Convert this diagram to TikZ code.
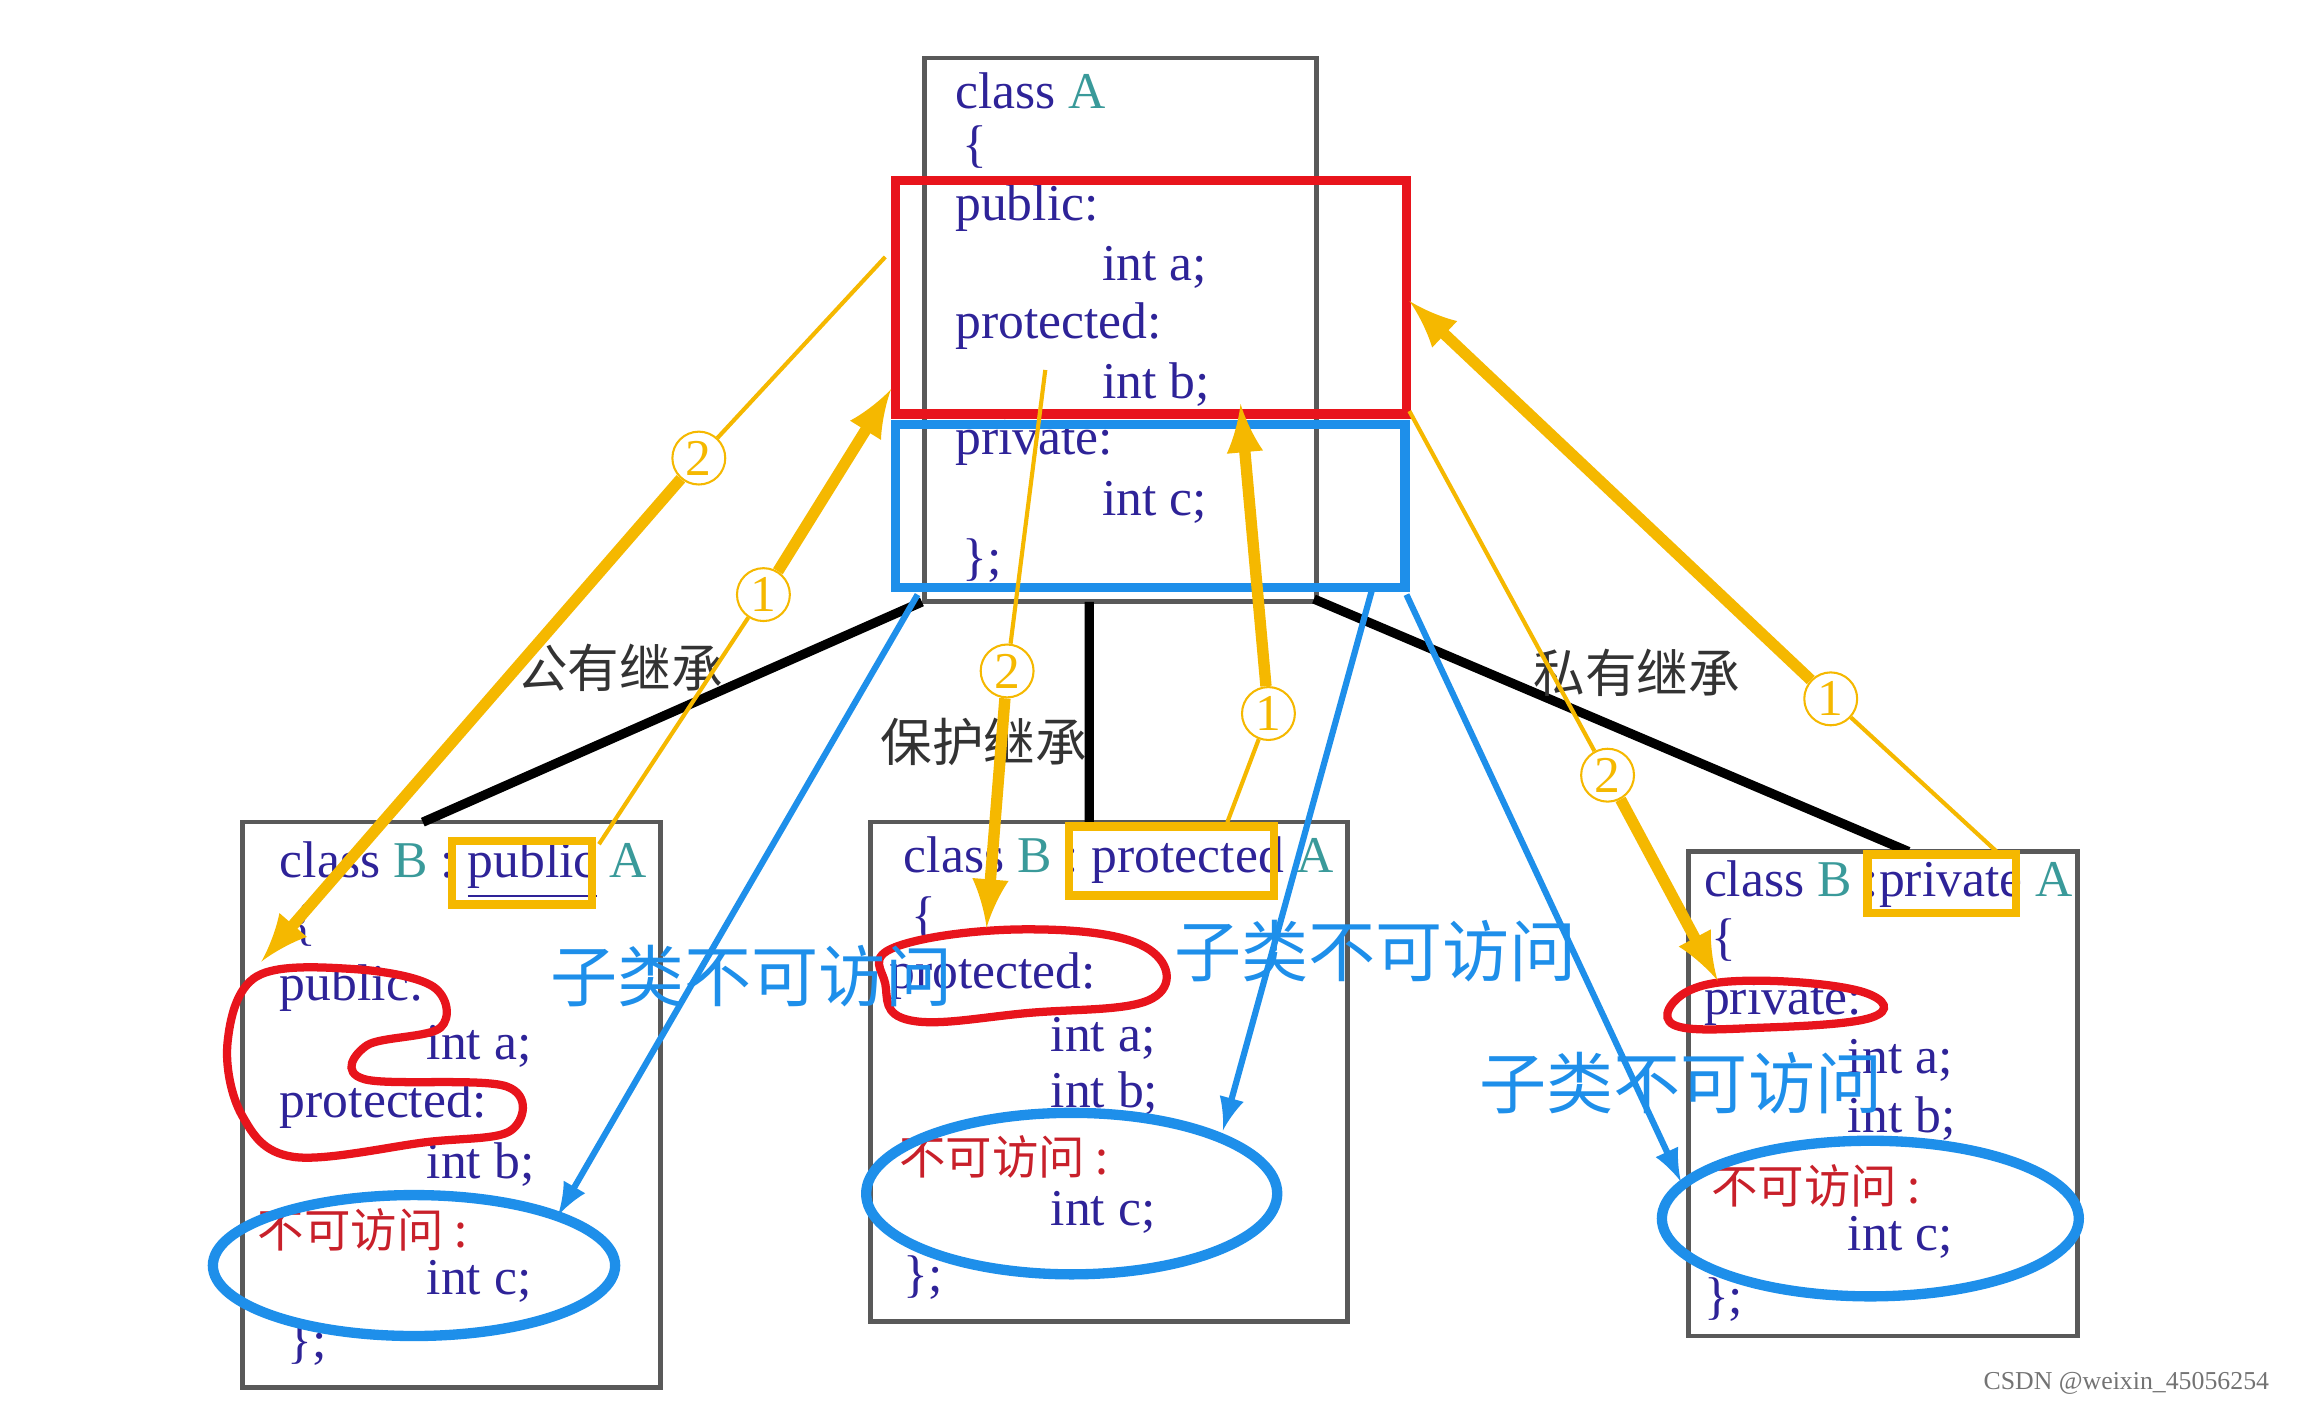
\documentclass[tikz,border=0pt]{standalone}
\usepackage{fontspec}
\setmainfont{Liberation Serif}
\newfontfamily\cjk{Noto Sans CJK SC}
\definecolor{kw}{HTML}{2E2398}
\definecolor{tl}{HTML}{3A9A9A}
\definecolor{rd}{HTML}{C8202A}
\definecolor{org}{HTML}{F5B800}
\definecolor{bl}{HTML}{1E8FEA}
\definecolor{rl}{HTML}{E8141C}
\begin{document}
\begin{tikzpicture}[x=0.01cm,y=-0.01cm,
 code/.style={anchor=west,inner sep=0,text=kw,font=\fontsize{10}{12}\selectfont},
 box/.style={draw=gray!70!black,line width=0.9pt},
 cn/.style={anchor=center,text=black!80,font=\cjk\fontsize{10}{12}\selectfont},
 bt/.style={text=bl,font=\cjk\fontsize{13}{15}\selectfont,inner sep=0},
 num/.style={circle,draw=org,text=org,inner sep=0,minimum size=0.36cm,font=\fontsize{10}{12}\selectfont},
 thk/.style={draw=org,line width=2.2pt,-latex},
 thn/.style={draw=org,line width=0.8pt},
 barr/.style={draw=bl,line width=1.2pt,-latex},
 ob/.style={draw=org,line width=1.6pt},
 rf/.style={draw=rl,line width=1.6pt},
 ell/.style={draw=bl,line width=2pt}]
\useasboundingbox (0,0) rectangle (1568,956);
% class A
\node[box,minimum width=2.67cm,minimum height=3.7cm,anchor=north west,inner sep=0] (A) at (628,38) {};
\node[code] (a1) at (650,62) {class \textcolor{tl}{A}};
\node[code] at (655,100) {\{};
\node[code] at (650,142) {public:};
\node[code] at (750,182) {int a;};
\node[code] at (650,222) {protected:};
\node[code] at (750,262) {int b;};
\node[code] at (650,302) {private:};
\node[code] at (750,342) {int c;};
\node[code] at (655,382) {\};};
\draw[draw=rl,line width=1.8pt] (610,123) rectangle (958,282);
\draw[draw=bl,line width=1.8pt] (610,289) rectangle (957,400);
% boxes B
\draw[box] (165,560) rectangle (450,945);
\draw[box] (593,560) rectangle (918,900);
\draw[box] (1150,580) rectangle (1415,910);
% inheritance lines
\coordinate (pA1) at (628,410); \coordinate (pB1) at (288,560);
\coordinate (pA2) at (742,410); \coordinate (pB2) at (742,560);
\coordinate (pA3) at (895,408); \coordinate (pB3) at (1300,580);
\draw[line width=1.8pt] (pA1)--(pB1) (pA2)--(pB2) (pA3)--(pB3);
\node[cn] at (422,455) {公有继承};
\node[cn] at (670,505) {保护继承};
\node[cn] at (1115,458) {私有继承};
% B1
\node[code] at (190,593) {class \textcolor{tl}{B} : \underline{public} \textcolor{tl}{A}};
\draw[ob] (308,573) rectangle (403,616);
\node[code] at (198,630) {\{};
\node[code] at (190,673) {public:};
\node[code] at (290,713) {int a;};
\node[code] at (190,753) {protected:};
\node[code] at (290,793) {int b;};
\node[code,text=rd,font=\cjk\fontsize{9}{11}\selectfont] at (175,838) {不可访问 :};
\node[code] at (290,873) {int c;};
\node[code] at (195,915) {\};};
% B2
\node[code] at (615,586) {class \textcolor{tl}{B} : protected \textcolor{tl}{A}};
\draw[ob] (728,563) rectangle (868,610);
\node[code] at (620,625) {\{};
\node[code] at (605,665) {protected:};
\node[code] at (715,707) {int a;};
\node[code] at (715,745) {int b;};
\node[code,text=rd,font=\cjk\fontsize{9}{11}\selectfont] at (612,788) {不可访问 :};
\node[code] at (715,826) {int c;};
\node[code] at (615,870) {\};};
% B3
\node[code] at (1160,602) {class \textcolor{tl}{B} :private \textcolor{tl}{A}};
\draw[ob] (1272,582) rectangle (1373,622);
\node[code] at (1165,640) {\{};
\node[code] at (1160,683) {private:};
\node[code] at (1258,722) {int a;};
\node[code] at (1258,762) {int b;};
\node[code,text=rd,font=\cjk\fontsize{9}{11}\selectfont] at (1165,808) {不可访问 :};
\node[code] at (1258,843) {int c;};
\node[code] at (1160,885) {\};};
% red freehand
\draw[rf] plot[smooth cycle,tension=0.6] coordinates {(175,665) (240,660) (295,672) (300,700) (250,712) (248,735) (345,740) (348,770) (290,778) (200,788) (165,760) (155,710)};
\draw[rf] plot[smooth cycle,tension=0.7] coordinates {(610,645) (700,633) (780,645) (785,680) (700,690) (620,695) (603,670)};
\draw[rf] plot[smooth cycle,tension=0.7] coordinates {(1150,675) (1200,668) (1270,676) (1275,693) (1200,700) (1140,698)};
% ellipses
\draw[ell] (282,862) ellipse [x radius=137,y radius=48];
\draw[ell] (730,813) ellipse [x radius=140,y radius=55];
\draw[ell] (1274,830) ellipse [x radius=142,y radius=53];
% blue text
\node[bt] at (512,665) {子类不可访问};
\node[bt] at (937,648) {子类不可访问};
\node[bt] at (1145,738) {子类不可访问};
% blue arrows
\coordinate (b1s) at (625,405); \coordinate (b1e) at (380,828);
\coordinate (b2s) at (935,400); \coordinate (b2e) at (833,770);
\coordinate (b3s) at (958,405); \coordinate (b3e) at (1145,805);
\draw[barr] (b1s)--(b1e);
\draw[barr] (b2s)--(b2e);
\draw[barr] (b3s)--(b3e);
% orange circled numbers and arrows
\node[num] (n1) at (476,312) {2};
\node[num] (n2) at (520,405) {1};
\node[num] (n3) at (686,457) {2};
\node[num] (n4) at (864,486) {1};
\node[num] (n5) at (1095,528) {2};
\node[num] (n6) at (1247,476) {1};
\coordinate (t1) at (603,175); \coordinate (h1) at (178,655);
\draw[thn] (t1)--(n1); \draw[thk] (n1)--(h1);
\coordinate (t2) at (408,575); \coordinate (h2) at (607,265);
\draw[thn] (t2)--(n2); \draw[thk] (n2)--(h2);
\coordinate (t3) at (712,252); \coordinate (h3) at (672,632);
\draw[thn] (t3)--(n3); \draw[thk] (n3)--(h3);
\coordinate (t4) at (836,560); \coordinate (h4) at (845,275);
\draw[thn] (t4)--(n4); \draw[thk] (n4)--(h4);
\coordinate (t5) at (960,280); \coordinate (h5) at (1170,668);
\draw[thn] (t5)--(n5); \draw[thk] (n5)--(h5);
\coordinate (t6) at (1360,580); \coordinate (h6) at (960,205);
\draw[thn] (t6)--(n6); \draw[thk] (n6)--(h6);
\node[text=black!55,font=\fontsize{5}{6}\selectfont,anchor=east] (foot) at (1558,942) {CSDN @weixin\_45056254};
\end{tikzpicture}
\end{document}
